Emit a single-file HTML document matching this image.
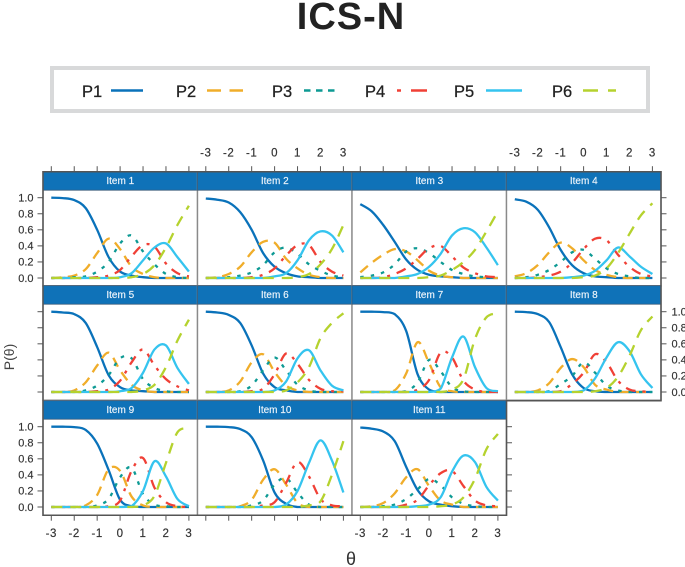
<!DOCTYPE html>
<html lang="en">
<head>
<meta charset="utf-8">
<title>ICS-N</title>
<style>
html,body{margin:0;padding:0;background:#fff;}
body{width:685px;height:567px;overflow:hidden;position:relative;font-family:"Liberation Sans",sans-serif;}
svg{position:absolute;left:0;top:0;filter:blur(0.35px);}
text{font-family:"Liberation Sans",sans-serif;}
</style>
</head>
<body>
<svg id="chart" width="685" height="567" viewBox="0 0 685 567" xmlns="http://www.w3.org/2000/svg">
  <text x="351" y="29" text-anchor="middle" font-size="38" font-weight="bold" fill="#222" letter-spacing="1">ICS-N</text>
  <g>
    <rect x="52" y="68" width="596" height="43" fill="#fff" stroke="#d8d9da" stroke-width="4"/>
    <g>
      <text x="82" y="97" font-size="16.5" fill="#222" stroke="#222" stroke-width="0.25">P1</text>
      <line x1="111" y1="90.5" x2="143" y2="90.5" stroke="#0a72ba" stroke-width="2.4"/>
    </g>
    <g>
      <text x="176" y="97" font-size="16.5" fill="#222" stroke="#222" stroke-width="0.25">P2</text>
      <line x1="207" y1="90.5" x2="243" y2="90.5" stroke="#f0ad2a" stroke-width="2.4" stroke-dasharray="14 8.5"/>
    </g>
    <g>
      <text x="272" y="97" font-size="16.5" fill="#222" stroke="#222" stroke-width="0.25">P3</text>
      <line x1="304" y1="90.5" x2="335" y2="90.5" stroke="#0d9a94" stroke-width="2.4" stroke-dasharray="6.5 5.5"/>
    </g>
    <g>
      <text x="365" y="97" font-size="16.5" fill="#222" stroke="#222" stroke-width="0.25">P4</text>
      <line x1="397" y1="90.5" x2="427" y2="90.5" stroke="#f04036" stroke-width="2.4" stroke-dasharray="4 10 16 4"/>
    </g>
    <g>
      <text x="454" y="97" font-size="16.5" fill="#222" stroke="#222" stroke-width="0.25">P5</text>
      <line x1="486" y1="90.5" x2="522" y2="90.5" stroke="#35c4ef" stroke-width="2.4"/>
    </g>
    <g>
      <text x="552" y="97" font-size="16.5" fill="#222" stroke="#222" stroke-width="0.25">P6</text>
      <line x1="583" y1="90.5" x2="616" y2="90.5" stroke="#b5d22e" stroke-width="2.4" stroke-dasharray="15 10"/>
    </g>
  </g>
  <text transform="translate(14 357) rotate(-90)" text-anchor="middle" font-size="14" fill="#444">P(θ)</text>
  <text x="351" y="565" text-anchor="middle" font-size="18" fill="#333">θ</text>
  <g id="panels"></g>
</svg>
<script>
const thetaGrid = [-3,-2.5,-2,-1.5,-1,-0.5,0,0.5,1,1.5,2,2.5,3];
const xTickValues = [-3,-2,-1,0,1,2,3];
const xTickLabels = ['-3','-2','-1','0','1','2','3'];
const yTickValues = [0,0.2,0.4,0.6,0.8,1];
const yTickLabels = ['0.0','0.2','0.4','0.6','0.8','1.0'];
const seriesNames = ['P1','P2','P3','P4','P5','P6'];
const itemNames = ['Item 1','Item 2','Item 3','Item 4','Item 5','Item 6','Item 7','Item 8','Item 9','Item 10','Item 11'];

const item1 = [
  [1,.995,.97,.87,.6,.26,.08,.03,.01,0,0,0,0],
  [0,.01,.03,.11,.31,.49,.36,.14,.05,.01,0,0,0],
  [0,0,.01,.02,.08,.2,.43,.53,.33,.17,.05,.01,0],
  [0,0,0,0,.01,.03,.1,.27,.41,.39,.18,.06,.02],
  [0,0,0,0,0,0,.01,.06,.22,.38,.43,.26,.08],
  [0,0,0,0,0,0,0,.01,.05,.16,.38,.66,.9]
];
const item2 = [
  [.99,.975,.94,.82,.6,.31,.14,.06,.02,.01,0,0,0],
  [0,.01,.05,.14,.32,.45,.44,.24,.12,.04,.01,0,0],
  [0,0,.01,.03,.07,.16,.32,.38,.3,.17,.09,.03,.01],
  [0,0,0,0,.01,.04,.12,.28,.41,.41,.2,.08,.03],
  [0,0,0,0,0,0,.02,.06,.22,.47,.58,.53,.32],
  [0,0,0,0,0,0,0,0,.01,.05,.17,.36,.66]
];
const item3 = [
  [.92,.83,.66,.45,.23,.1,.04,.02,.01,0,0,0,0],
  [.07,.19,.29,.36,.33,.22,.09,.03,.01,0,0,0,0],
  [.01,.03,.07,.17,.33,.37,.31,.2,.1,.05,.02,.01,0],
  [0,0,.01,.05,.12,.24,.37,.4,.27,.13,.06,.02,.01],
  [0,0,0,0,.02,.05,.14,.3,.53,.62,.57,.38,.16],
  [0,0,0,0,0,0,.01,.03,.1,.2,.35,.58,.83]
];
const item4 = [
  [.98,.95,.85,.63,.35,.16,.06,.02,.01,0,0,0,0],
  [.02,.06,.16,.32,.44,.37,.22,.1,.04,.01,0,0,0],
  [0,.01,.04,.1,.2,.32,.35,.24,.12,.05,.02,0,0],
  [0,0,.01,.03,.08,.19,.36,.49,.47,.29,.14,.05,.02],
  [0,0,0,0,0,.01,.03,.09,.22,.38,.27,.14,.05],
  [0,0,0,0,0,0,.01,.03,.12,.31,.55,.78,.93]
];
const item5 = [
  [1,.99,.97,.86,.56,.21,.06,.02,.01,0,0,0,0],
  [0,0,.02,.12,.33,.49,.27,.09,.02,0,0,0,0],
  [0,0,0,.02,.08,.21,.42,.42,.16,.05,.01,0,0],
  [0,0,0,0,.01,.03,.14,.37,.53,.33,.16,.07,.02],
  [0,0,0,0,0,0,.01,.05,.24,.53,.58,.3,.1],
  [0,0,0,0,0,0,0,0,.02,.09,.31,.64,.9]
];
const item6 = [
  [1,.99,.96,.86,.58,.23,.06,.02,0,0,0,0,0],
  [0,0,.02,.13,.37,.47,.25,.08,.02,0,0,0,0],
  [0,0,0,.01,.08,.27,.43,.27,.09,.02,0,0,0],
  [0,0,0,0,.01,.04,.22,.48,.35,.15,.04,.01,.01],
  [0,0,0,0,0,0,.02,.13,.42,.52,.27,.08,.02],
  [0,0,0,0,0,0,0,.02,.12,.31,.67,.86,.98]
];
const item7 = [
  [1,1,.995,.97,.76,.22,.03,0,0,0,0,0,0],
  [0,0,0,.02,.23,.62,.36,.06,.01,0,0,0,0],
  [0,0,0,0,.01,.12,.4,.26,.06,.01,0,0,0],
  [0,0,0,0,0,.03,.15,.49,.43,.14,.03,0,0],
  [0,0,0,0,0,0,0,.04,.43,.69,.31,.05,.01],
  [0,0,0,0,0,0,0,0,.03,.16,.66,.93,.98]
];
const item8 = [
  [1,.995,.97,.87,.56,.22,.05,.01,0,0,0,0,0],
  [0,0,.02,.11,.3,.41,.31,.09,.03,0,0,0,0],
  [0,0,0,.01,.1,.2,.37,.24,.08,.02,0,0,0],
  [0,0,0,0,.01,.1,.24,.47,.37,.14,.03,.01,0],
  [0,0,0,0,0,0,.02,.17,.43,.62,.51,.22,.05],
  [0,0,0,0,0,0,0,.01,.05,.19,.45,.77,.94]
];
const item9 = [
  [1,1,.995,.96,.79,.46,.09,.01,0,0,0,0,0],
  [0,0,0,.02,.15,.47,.45,.13,.02,0,0,0,0],
  [0,0,0,0,.02,.1,.37,.49,.16,.03,.01,0,0],
  [0,0,0,0,0,.01,.08,.45,.61,.24,.06,.01,0],
  [0,0,0,0,0,0,0,.01,.2,.57,.38,.1,.01],
  [0,0,0,0,0,0,0,0,.02,.14,.55,.93,.98]
];
const item10 = [
  [1,1,.995,.97,.87,.58,.18,.04,0,0,0,0,0],
  [0,0,0,.01,.09,.34,.47,.28,.05,0,0,0,0],
  [0,0,0,0,.02,.08,.28,.36,.18,.03,0,0,0],
  [0,0,0,0,0,.02,.06,.3,.56,.38,.1,.02,.01],
  [0,0,0,0,0,0,0,.03,.2,.55,.83,.58,.18],
  [0,0,0,0,0,0,0,0,0,.02,.07,.4,.82]
];
const item11 = [
  [.99,.975,.94,.82,.5,.21,.07,.03,.01,0,0,0,0],
  [0,.01,.05,.17,.37,.47,.26,.08,.03,0,0,0,0],
  [0,0,.01,.03,.1,.22,.35,.27,.12,.04,.01,0,0],
  [0,0,0,0,.03,.09,.27,.42,.45,.26,.08,.02,.01],
  [0,0,0,0,0,.01,.03,.12,.44,.64,.56,.25,.08],
  [0,0,0,0,0,0,0,.01,.03,.12,.35,.72,.91]
];
const itemSeries = [item1,item2,item3,item4,item5,item6,item7,item8,item9,item10,item11];

const seriesColors = ['#0a72ba','#f0ad2a','#0d9a94','#f04036','#35c4ef','#b5d22e'];
const seriesDashes = ['none','10 6.5','3.5 7','3 7 10 7','none','11 8'];

const SVGNS = 'http://www.w3.org/2000/svg';
const root = document.getElementById('panels');
const colLeft = 43, colWidth = 154.5;
const rowTop = [171.7, 285.7, 400.7];
const stripH = 18.5, panelH = 114.5;

function make(tag, parent, attrs){
  const el = document.createElementNS(SVGNS, tag);
  for (const k in attrs) el.setAttribute(k, attrs[k]);
  parent.appendChild(el);
  return el;
}
function xScale(col, theta){
  const left = colLeft + col * colWidth + 8.3;
  return left + (theta + 3) * (137.6 / 6);
}
function yScale(row, v){
  const y0 = rowTop[row] + 106.3;
  return y0 - v * 80.3;
}
function curvePath(col, row, values){
  const pts = values.map(function(v, i){ return [xScale(col, thetaGrid[i]), yScale(row, v)]; });
  const top = yScale(row, 1), bottom = yScale(row, 0);
  const clampY = function(y){ return Math.max(top, Math.min(bottom, y)); };
  let d = 'M' + pts[0][0].toFixed(2) + ' ' + pts[0][1].toFixed(2);
  for (let i = 0; i < pts.length - 1; i++){
    const p0 = pts[Math.max(0, i - 1)], p1 = pts[i], p2 = pts[i + 1], p3 = pts[Math.min(pts.length - 1, i + 2)];
    const c1x = p1[0] + (p2[0] - p0[0]) / 6, c1y = clampY(p1[1] + (p2[1] - p0[1]) / 6);
    const c2x = p2[0] - (p3[0] - p1[0]) / 6, c2y = clampY(p2[1] - (p3[1] - p1[1]) / 6);
    d += 'C' + c1x.toFixed(2) + ' ' + c1y.toFixed(2) + ' ' + c2x.toFixed(2) + ' ' + c2y.toFixed(2) + ' ' + p2[0].toFixed(2) + ' ' + p2[1].toFixed(2);
  }
  return d;
}

itemNames.forEach(function(name, idx){
  const col = idx % 4, row = Math.floor(idx / 4), n = idx + 1;
  const x = colLeft + col * colWidth, y = rowTop[row];
  const g = make('g', root, {});
  
  

  const bg = make('rect', g, {x:x, y:y, width:colWidth, height:panelH, fill:'#fff', stroke:'#8a8a8a', 'stroke-width':1.4});
  
  

  const strip = make('rect', g, {x:x, y:y, width:colWidth, height:stripH, fill:'#0f72b8', stroke:'#3a5a78', 'stroke-width':0.8});
  
  

  const label = make('text', g, {x:x + colWidth / 2, y:y + 12.2, 'text-anchor':'middle', 'font-size':10, fill:'#eef5fb', stroke:'#eef5fb', 'stroke-width':0.15});
  label.textContent = name;
  
  

  itemSeries[idx].forEach(function(values, s){
    const attrs = {d:curvePath(col, row, values), fill:'none', stroke:seriesColors[s], 'stroke-width':2.3};
    if (seriesDashes[s] !== 'none') attrs['stroke-dasharray'] = seriesDashes[s];
    const path = make('path', g, attrs);
    
    
  });

  // top ticks (first row)
  if (row === 0){
    xTickValues.forEach(function(t, i){
      const tx = xScale(col, t);
      const tick = make('line', g, {x1:tx, x2:tx, y1:y - 5.5, y2:y, stroke:'#555', 'stroke-width':1});
      
      
      if (col === 1 || col === 3){
        const tl = make('text', g, {x:tx, y:y - 15, 'text-anchor':'middle', 'font-size':11.5, fill:'#333', stroke:'#333', 'stroke-width':0.2, 'letter-spacing':0.6});
        tl.textContent = xTickLabels[i];
        
        
      }
    });
  }
  // bottom ticks (last row)
  if (row === 2){
    xTickValues.forEach(function(t, i){
      const tx = xScale(col, t);
      const tick = make('line', g, {x1:tx, x2:tx, y1:y + panelH, y2:y + panelH + 5.5, stroke:'#555', 'stroke-width':1});
      
      
      if (col === 0 || col === 2){
        const tl = make('text', g, {x:tx, y:y + panelH + 22, 'text-anchor':'middle', 'font-size':11.5, fill:'#333', stroke:'#333', 'stroke-width':0.2, 'letter-spacing':0.6});
        tl.textContent = xTickLabels[i];
        
        
      }
    });
  }
  // left ticks (first column)
  if (col === 0){
    yTickValues.forEach(function(v, i){
      const ty = yScale(row, v);
      const tick = make('line', g, {x1:x - 5.5, x2:x, y1:ty, y2:ty, stroke:'#555', 'stroke-width':1});
      
      
      if (row !== 1){
        const tl = make('text', g, {x:33.5, y:ty + 3.8, 'text-anchor':'end', 'font-size':11, fill:'#333', stroke:'#333', 'stroke-width':0.15});
        tl.textContent = yTickLabels[i];
        
        
      }
    });
  }
  // right ticks (last panel in each row)
  if (col === 3 || idx === itemNames.length - 1){
    yTickValues.forEach(function(v, i){
      const ty = yScale(row, v);
      const tick = make('line', g, {x1:x + colWidth, x2:x + colWidth + 5.5, y1:ty, y2:ty, stroke:'#555', 'stroke-width':1});
      
      
      if (row === 1){
        const tl = make('text', g, {x:671.5, y:ty + 3.8, 'font-size':11, fill:'#333', stroke:'#333', 'stroke-width':0.15});
        tl.textContent = yTickLabels[i];
        
        
      }
    });
  }
});

// outer frame over the panels
const framePts = [
  [colLeft, rowTop[0]],
  [colLeft + 4 * colWidth, rowTop[0]],
  [colLeft + 4 * colWidth, rowTop[2]],
  [colLeft + 3 * colWidth, rowTop[2]],
  [colLeft + 3 * colWidth, rowTop[2] + panelH],
  [colLeft, rowTop[2] + panelH]
];
const frame = make('polygon', root, {points:framePts.map(function(p){ return p.join(','); }).join(' '), fill:'none', stroke:'#555', 'stroke-width':1.5});


</script>
</body>
</html>
